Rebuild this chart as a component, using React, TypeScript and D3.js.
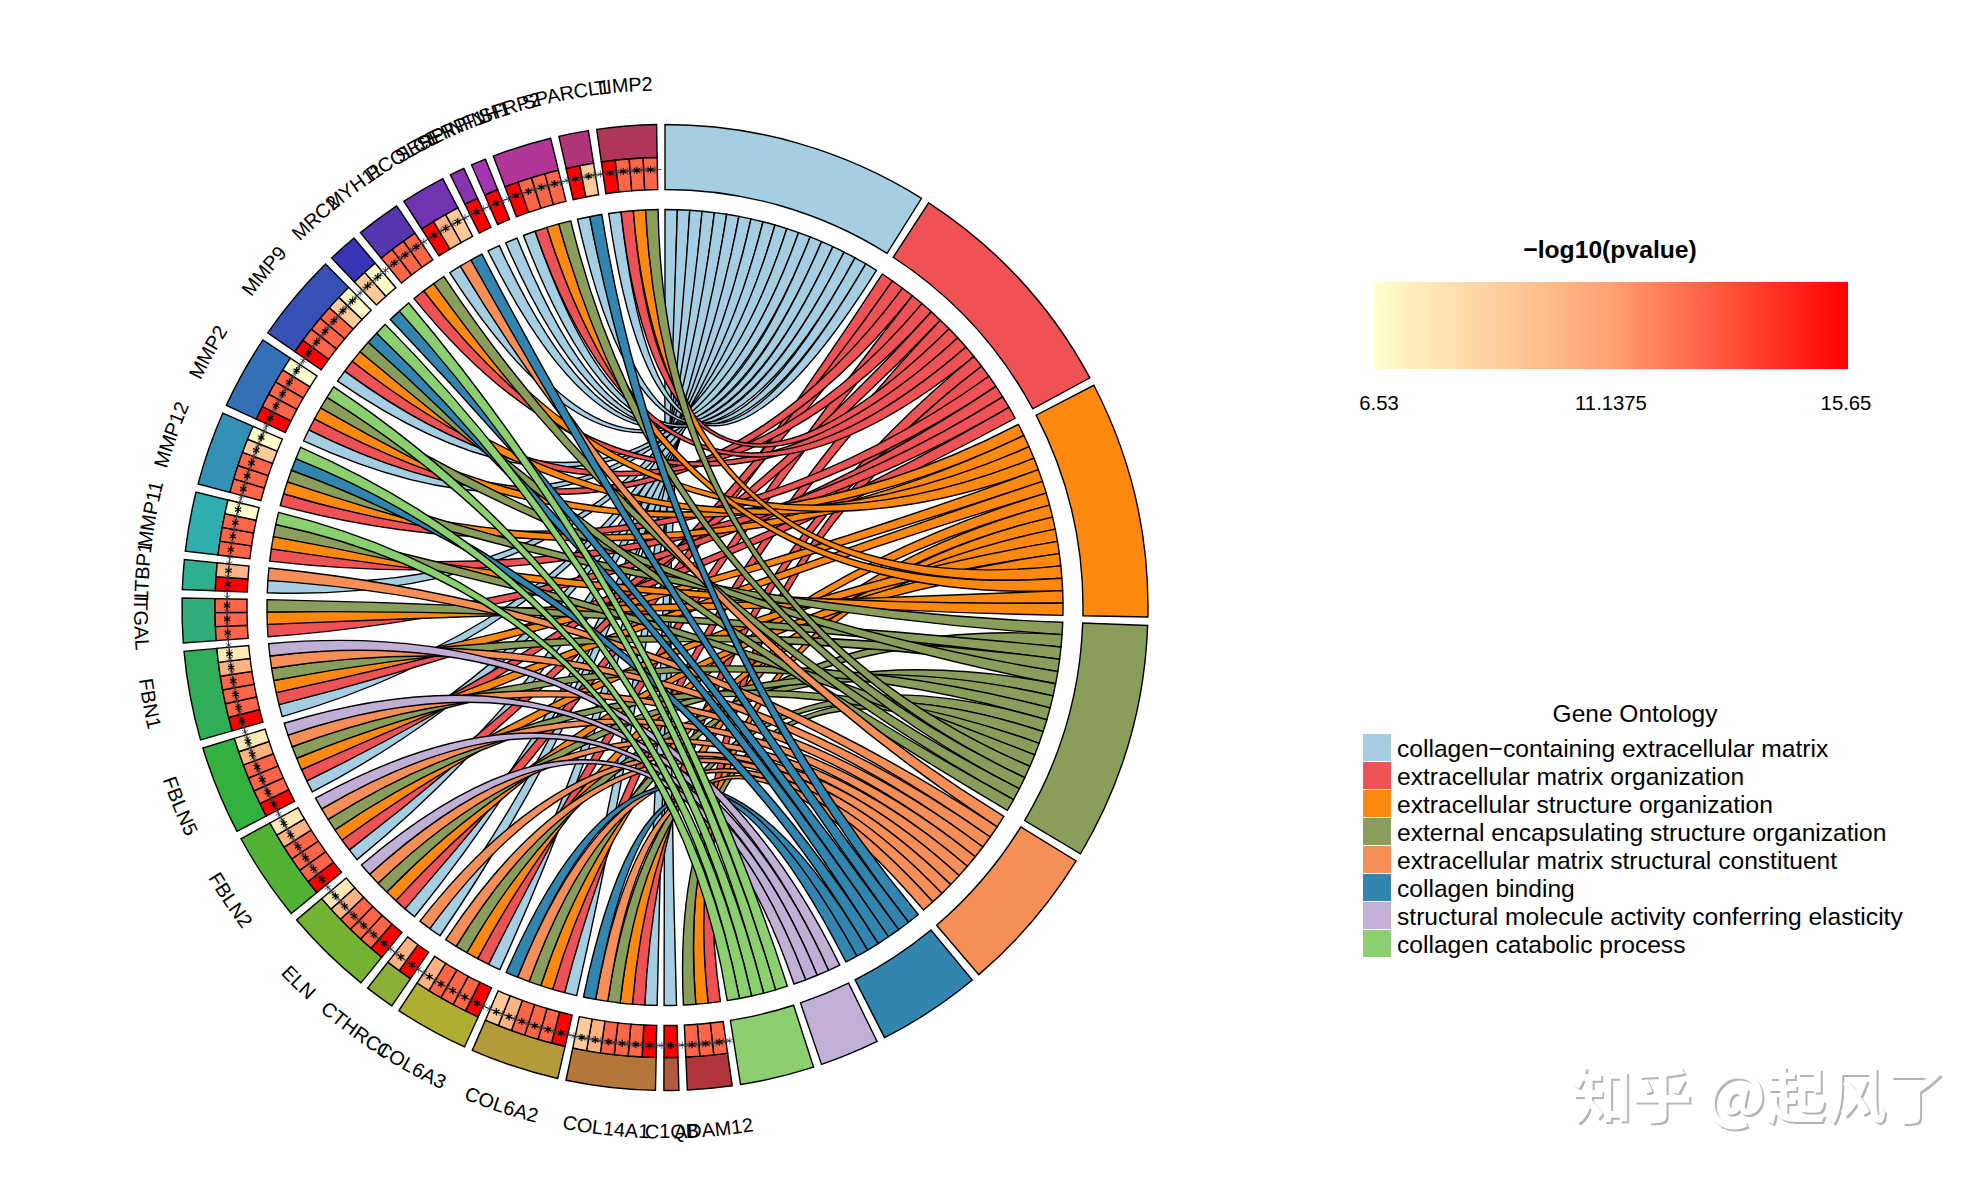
import React from 'react';
import * as d3 from 'd3';

const goTerms = [
  'collagen−containing extracellular matrix',
  'extracellular matrix organization',
  'extracellular structure organization',
  'external encapsulating structure organization',
  'extracellular matrix structural constituent',
  'collagen binding',
  'structural molecule activity conferring elasticity',
  'collagen catabolic process',
];
const goColors = ['#A6CEE3', '#EF5255', '#FF8811', '#899E5B', '#F58F57', '#3185AF', '#C2AFD6', '#8CCF6E'];
const goPvalues = [15.65, 12.8, 12.8, 12.8, 10.2, 9.1, 7.6, 6.53];

const genes = [
  'ADAM12', 'C1QB', 'COL14A1', 'COL6A2', 'COL6A3', 'CTHRC1', 'ELN', 'FBLN2', 'FBLN5', 'FBN1', 'ITGAL', 'LTBP1',
  'MMP11', 'MMP12', 'MMP2', 'MMP9', 'MRC2', 'MYH11', 'PCOLCE', 'SERPINF1', 'SERPINH1', 'SFRP2', 'SPARCL1', 'TIMP2',
];
const geneColors = [
  '#B0363B', '#B25A3B', '#B5763A', '#B59A3A', '#ADAE33', '#8BAE37', '#74B232', '#4FB235', '#33B03E', '#2FAE57', '#2FAE7A', '#30AE92',
  '#30ADAE', '#3290B5', '#3470B5', '#3650B5', '#3835B5', '#5535B0', '#7233B0', '#8A33B0', '#A335B0', '#B03596', '#B03578', '#B0355A',
];

// genes of each GO term, in the clockwise order of the links inside the GO sector
const go1Genes = ['C1QB', 'COL14A1', 'COL6A2', 'COL6A3', 'CTHRC1', 'ELN', 'FBLN2', 'FBLN5', 'FBN1', 'LTBP1', 'MMP2', 'MMP9', 'PCOLCE', 'SERPINF1', 'SERPINH1', 'SFRP2', 'SPARCL1', 'TIMP2'];
const go2Genes = ['ELN', 'FBLN2', 'MMP2', 'COL6A3', 'MMP9', 'FBLN5', 'COL6A2', 'TIMP2', 'MYH11', 'SFRP2', 'COL14A1', 'ADAM12', 'MMP12', 'ITGAL', 'MMP11', 'FBN1'];
const go3Genes = ['MMP2', 'MMP12', 'MMP9', 'MYH11', 'FBN1', 'FBLN5', 'COL6A3', 'COL14A1', 'ADAM12', 'COL6A2', 'FBLN2', 'ELN', 'TIMP2', 'SFRP2', 'ITGAL', 'MMP11'];
const go4Genes = ['MMP12', 'COL6A2', 'ITGAL', 'FBN1', 'MMP2', 'COL6A3', 'ELN', 'FBLN5', 'COL14A1', 'ADAM12', 'FBLN2', 'MMP11', 'TIMP2', 'SFRP2', 'MYH11', 'MMP9'];
const go5Genes = ['PCOLCE', 'LTBP1', 'FBN1', 'FBLN5', 'FBLN2', 'ELN', 'CTHRC1', 'COL6A3', 'COL6A2', 'COL14A1'];
const go6Genes = ['SPARCL1', 'PCOLCE', 'MRC2', 'MMP9', 'MMP12', 'COL6A2', 'COL14A1'];
const go7Genes = ['FBN1', 'FBLN5', 'FBLN2', 'ELN'];
const go8Genes = ['MRC2', 'MMP9', 'MMP2', 'MMP12', 'MMP11'];
const goGenes = [go1Genes, go2Genes, go3Genes, go4Genes, go5Genes, go6Genes, go7Genes, go8Genes];

const legendTicks = [6.53, 11.1375, 15.65];

const width = 1985;
const height = 1177;
const cx = 665;
const cy = 607.5;
const rOuter = 483;
const rSplit = 450;
const rInner = 418;
const rRibbon = 398;
const rStars = 438;
const rLabel = 524;
const gap = Math.PI / 180;

const heat = d3
  .scaleLinear<string>()
  .domain(legendTicks)
  .range(['#FFFFCC', '#FFA070', '#FF0000']);

const nLinks = d3.sum(goGenes, d => d.length);
const unit = (2 * Math.PI - gap * (goTerms.length + genes.length)) / (2 * nLinks);

type Slot = { startAngle: number; endAngle: number };

// lay sectors out clockwise from 12 o'clock: GO terms first, then genes
let cursor = 0;
const goSectors = goGenes.map(list => {
  const startAngle = cursor;
  const slots = new Map<string, Slot>();
  list.forEach(g => {
    slots.set(g, { startAngle: cursor, endAngle: cursor + unit });
    cursor += unit;
  });
  const sector = { startAngle, endAngle: cursor, slots };
  cursor += gap;
  return sector;
});
const geneSectors = genes.map(gene => {
  const startAngle = cursor;
  const slots = goGenes.flatMap((list, go) => {
    if (!list.includes(gene)) return [];
    const slot = { go, startAngle: cursor, endAngle: cursor + unit };
    cursor += unit;
    return [slot];
  });
  const sector = { startAngle, endAngle: cursor, slots };
  cursor += gap;
  return sector;
});

const ringArc = d3.arc<Slot>().innerRadius(rInner).outerRadius(rOuter);
const nameArc = d3.arc<Slot>().innerRadius(rSplit).outerRadius(rOuter);
const heatArc = d3.arc<Slot>().innerRadius(rInner).outerRadius(rSplit);
const ribbon = d3.ribbon<any, Slot>().radius(rRibbon);
const star = d3.symbol(d3.symbolAsterisk, 36);

const polar = (a: number, r: number) => [r * Math.sin(a), -r * Math.cos(a)];

// ribbons are painted GO term by GO term, the last term ends up on top
const links = goGenes.flatMap((list, go) =>
  list.map(gene => ({
    go,
    gene,
    source: geneSectors[genes.indexOf(gene)].slots.find(s => s.go === go) as Slot,
    target: goSectors[go].slots.get(gene) as Slot,
  }))
);

const starStart = geneSectors[0].startAngle - gap / 2;
const starEnd = geneSectors[genes.length - 1].endAngle + gap / 2;
const starAngles = d3.range(starStart, starEnd, unit / 2);
const slotCentres = geneSectors.flatMap(s => s.slots.map(d => (d.startAngle + d.endAngle) / 2));

// labels bend along the circle and always read upright
const labelPath = (a: number) => {
  const p = d3.path();
  const ang = a - Math.PI / 2;
  const bottom = a > Math.PI / 2 && a < (3 * Math.PI) / 2;
  const sweep = 0.4;
  if (bottom) p.arc(0, 0, rLabel, ang + sweep, ang - sweep, true);
  else p.arc(0, 0, rLabel, ang - sweep, ang + sweep, false);
  return p.toString();
};

const labelFont = '"Liberation Sans", Arial, sans-serif';
const cjkFont = '"Noto Sans CJK SC", sans-serif';

const App: React.FC = () => {
  const legend = d3.scaleLinear().domain([6.53, 15.65]).range([1374, 1848]);
  return (
    <svg
      width={width}
      height={height}
      style={{ position: 'absolute', left: 0, top: 0, background: '#fff' }}
      fontFamily={labelFont}
    >
      <defs>
        <linearGradient id="pvalue">
          {d3.range(0, 1.001, 0.1).map(t => (
            <stop key={t} offset={t} stopColor={heat(6.53 + t * (15.65 - 6.53))} />
          ))}
        </linearGradient>
        {geneSectors.map((d, i) => (
          <path key={genes[i]} id={`label-${i}`} d={labelPath((d.startAngle + d.endAngle) / 2)} />
        ))}
      </defs>

      <g transform={`translate(${cx},${cy})`} stroke="#000" strokeWidth={1.4}>
        {links.map(d => (
          <path key={`${d.go}-${d.gene}`} d={ribbon(d as any) as unknown as string} fill={goColors[d.go]} />
        ))}
        {goSectors.map((d, i) => (
          <path key={goTerms[i]} d={ringArc(d) as string} fill={goColors[i]} />
        ))}
        {geneSectors.map((d, i) => (
          <g key={genes[i]}>
            <path d={nameArc(d) as string} fill={geneColors[i]} />
            {d.slots.map(s => (
              <path key={s.go} d={heatArc(s) as string} fill={heat(goPvalues[s.go])} />
            ))}
          </g>
        ))}

        <path
          d={d3.arc<Slot>().innerRadius(rStars).outerRadius(rStars)({ startAngle: starStart, endAngle: starEnd }) as string}
          fill="none"
          stroke="#3a4650"
          strokeWidth={0.8}
        />
        {starAngles.map(a => {
          const [x, y] = polar(a, rStars);
          return <path key={a} d={star() as string} transform={`translate(${x},${y})`} fill="none" stroke="#2b3640" strokeWidth={0.7} />;
        })}
        {slotCentres.map(a => {
          const [x, y] = polar(a, rStars);
          return <path key={a} d={star() as string} transform={`translate(${x},${y})`} fill="none" stroke="#000" strokeWidth={1.1} />;
        })}
      </g>

      <g transform={`translate(${cx},${cy})`} fontSize={19.8} fill="#000">
        {genes.map((gene, i) => (
          <text key={gene} textAnchor="middle" dominantBaseline="central">
            <textPath href={`#label-${i}`} startOffset="50%">
              {gene}
            </textPath>
          </text>
        ))}
      </g>

      <text x={1610} y={249} textAnchor="middle" dominantBaseline="central" fontSize={24.7} fontWeight="bold">
        −log10(pvalue)
      </text>
      <rect x={legend(6.53)} y={282} width={legend(15.65) - legend(6.53)} height={87} fill="url(#pvalue)" />
      {legendTicks.map((t, i) => (
        <text key={t} x={[1379, 1611, 1846][i]} y={403} textAnchor="middle" dominantBaseline="central" fontSize={20.3}>
          {t}
        </text>
      ))}

      <text x={1635} y={713} textAnchor="middle" dominantBaseline="central" fontSize={24.5}>
        Gene Ontology
      </text>
      {goTerms.map((term, i) => (
        <g key={term} transform={`translate(1363,${734 + i * 28})`}>
          <rect width={28} height={27} fill={goColors[i]} />
          <text x={34} y={14} dominantBaseline="central" fontSize={24.6}>
            {term}
          </text>
        </g>
      ))}

      <text x={1574} y={1120} fontFamily={cjkFont} fontSize={60} fontWeight={700} fill="#b4b4b4">
        知乎 @起风了
      </text>
      <text x={1572} y={1118} fontFamily={cjkFont} fontSize={60} fontWeight={700} fill="#fff">
        知乎 @起风了
      </text>
    </svg>
  );
};

export default App;
